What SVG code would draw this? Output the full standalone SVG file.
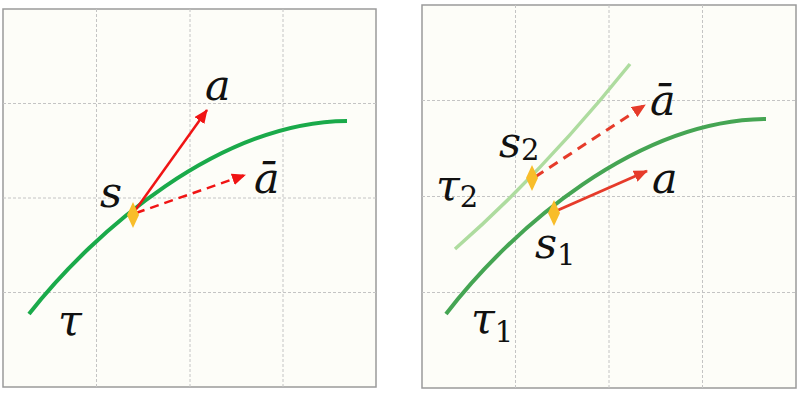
<svg xmlns="http://www.w3.org/2000/svg" width="800" height="394" viewBox="0 0 800 394">
<style>
.bg{fill:#fdfdf8;stroke:#9a9a9a;stroke-width:1.5}
.grid{stroke:#c4c4c4;stroke-width:1;stroke-dasharray:3,2;fill:none}
.lbl{font-family:"DejaVu Serif","Liberation Serif",serif;font-style:italic;font-size:43px;fill:#111}
.sub{font-family:"DejaVu Serif","Liberation Serif",serif;font-size:29px;fill:#111}
.dia{fill:#f8bd2a}
</style>
<defs>
<marker id="ahL" markerUnits="userSpaceOnUse" markerWidth="14" markerHeight="12" refX="13" refY="6" orient="auto"><path d="M0,0 L14,6 L0,12 Z" fill="#f01414"/></marker>
<marker id="ahR" markerUnits="userSpaceOnUse" markerWidth="14" markerHeight="12" refX="13" refY="6" orient="auto"><path d="M0,0 L14,6 L0,12 Z" fill="#e63b2a"/></marker>
</defs>

<g id="panel-left">
<rect class="bg" x="3" y="9" width="373" height="378"/>
<g class="grid">
<line x1="96.5" y1="9" x2="96.5" y2="387"/>
<line x1="190" y1="9" x2="190" y2="387"/>
<line x1="283" y1="9" x2="283" y2="387"/>
<line x1="3" y1="103.5" x2="376" y2="103.5"/>
<line x1="3" y1="198" x2="376" y2="198"/>
<line x1="3" y1="292.5" x2="376" y2="292.5"/>
</g>
</g>

<g id="panel-right">
<rect class="bg" x="422" y="5" width="374" height="383"/>
<g class="grid">
<line x1="515.5" y1="5" x2="515.5" y2="388"/>
<line x1="609" y1="5" x2="609" y2="388"/>
<line x1="702.5" y1="5" x2="702.5" y2="388"/>
<line x1="422" y1="100.5" x2="796" y2="100.5"/>
<line x1="422" y1="196.5" x2="796" y2="196.5"/>
<line x1="422" y1="292.5" x2="796" y2="292.5"/>
</g>
</g>

<g id="tau">
<path d="M29,314 C95,230 220,122 347,121" fill="none" stroke="#1aaa4a" stroke-width="4"/>
<text class="lbl" x="58" y="335">τ</text>
</g>

<g id="tau1">
<path d="M446,314 C512,228 637,120 766,119" fill="none" stroke="#45a553" stroke-width="4"/>
<text class="lbl" x="471" y="333">τ<tspan class="sub" dy="9" font-style="normal">1</tspan></text>
</g>

<g id="tau2">
<path d="M455,249 Q545,170 630,64" fill="none" stroke="#aedc9f" stroke-width="3.5"/>
<text class="lbl" x="436" y="200">τ<tspan class="sub" dy="7" font-style="normal">2</tspan></text>
</g>

<g id="connectors">
<line x1="134" y1="212" x2="207" y2="110" stroke="#f01414" stroke-width="2.5" marker-end="url(#ahL)"/>
<line x1="136" y1="213" x2="245" y2="175" stroke="#f01414" stroke-width="2.5" stroke-dasharray="9,6" marker-end="url(#ahL)"/>
<line x1="556" y1="211" x2="647" y2="171" stroke="#e63b2a" stroke-width="3" marker-end="url(#ahR)"/>
<line x1="535" y1="177" x2="645" y2="105" stroke="#e63b2a" stroke-width="3" stroke-dasharray="10,7" marker-end="url(#ahR)"/>
</g>

<g id="s">
<polygon class="dia" points="133,202 139,215 133,228 127,215"/>
<text class="lbl" x="100" y="207">s</text>
</g>
<g id="s1">
<polygon class="dia" points="554,200 560,213 554,226 548,213"/>
<text class="lbl" x="535" y="258">s<tspan class="sub" dy="7" font-style="normal">1</tspan></text>
</g>
<g id="s2">
<polygon class="dia" points="532,165 538,178 532,191 526,178"/>
<text class="lbl" x="499" y="157">s<tspan class="sub" dy="3" font-style="normal">2</tspan></text>
</g>

<g id="labels">
<text class="lbl" x="205" y="100">a</text>
<text class="lbl" x="254" y="193">ā</text>
<text class="lbl" x="652" y="193">a</text>
<text class="lbl" x="650" y="115">ā</text>
</g>
</svg>
